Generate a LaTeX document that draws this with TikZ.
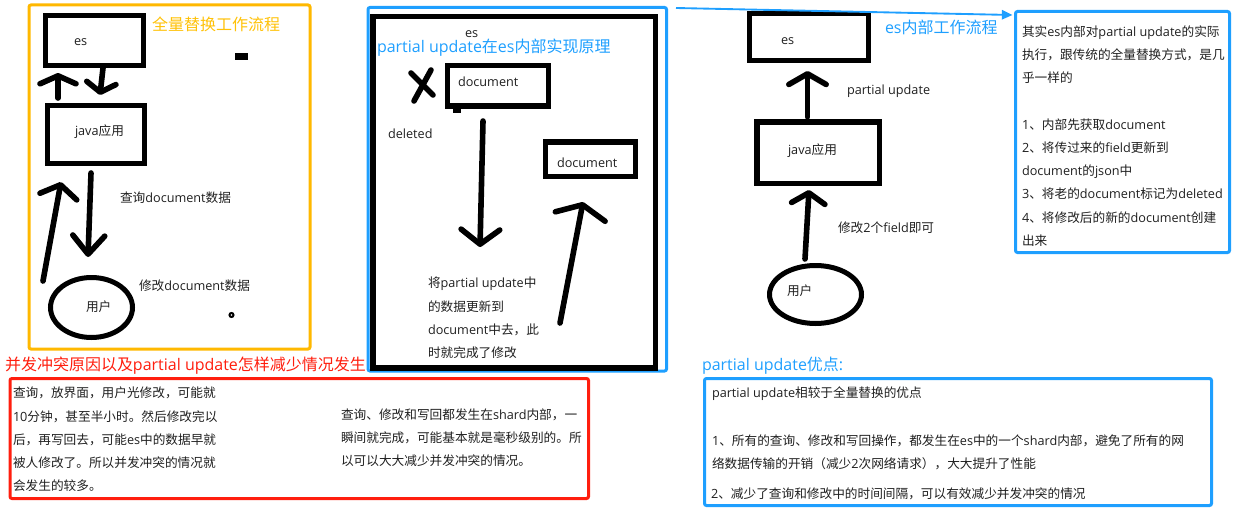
\documentclass[tikz,border=0pt]{standalone}
\usepackage{fontspec}
\setmainfont{Noto Sans CJK SC}
\newfontfamily\latfont{Open Sans}
\newcommand{\la}[1]{{\latfont #1}}
\usetikzlibrary{arrows.meta,shapes.geometric}
\definecolor{panelblue}{HTML}{1E9FFF}
\definecolor{panelorange}{HTML}{FFB800}
\definecolor{titleorange}{HTML}{FFC107}
\definecolor{panelred}{HTML}{FF1E0E}
\tikzset{
    panel/.style={draw=#1,line width=2.25pt,rounded corners=1.5pt,inner sep=0pt,outer sep=0pt},
    inkbox/.style={draw=black,line width=3.75pt,inner sep=0pt,outer sep=0pt},
    inkuser/.style={draw=black,line width=3.75pt,ellipse,inner sep=0pt,outer sep=0pt},
    sized/.style 2 args={minimum width=#1*0.75pt,minimum height=#2*0.75pt},
    brush/.style={line width=4.2pt,line cap=round,line join=round},
    barb/.style 2 args={-{Straight Barb[length=#1,width=#2,round]}},
    txt/.style={anchor=west,inner sep=0pt,outer sep=0pt,align=left,text=black!88,font=\fontsize{9.5}{17.4}\selectfont},
    titletxt/.style={anchor=west,inner sep=0pt,outer sep=0pt,text=#1,font=\fontsize{12}{14}\selectfont}
}
\begin{document}
\begin{tikzpicture}[x=0.75pt,y=-0.75pt]
            \useasboundingbox (0,0) rectangle (1235,510);
            % full replace flow
            \node[panel=panelorange,sized={281}{344}] (fullpanel) at (169.5,177) {};
            \node[inkbox,sized={98}{50}] (es1) at (94.5,40.5) {};
            \node[inkbox,sized={97}{58}] (java1) at (96,134.5) {};
            \node[inkuser,sized={82}{60}] (user1) at (91.5,307.5) {};
            \node[txt] (estxt1) at (74,42) {\la{es}};
            \node[txt] (javatxt1) at (75,132) {\la{java}应用};
            \node[txt] (usertxt1) at (86,307) {用户};
            \node[titletxt=titleorange] (fulltitle) at (152,24) {全量替换工作流程};
            \node[txt] (querytxt) at (120,198) {查询\la{document}数据};
            \node[txt] (edittxt) at (139,286) {修改\la{document}数据};
            \fill (235,53) rectangle (248,60);
            \draw[line width=1.5pt] (231.5,315) circle (2);
            \draw[brush,barb={6pt}{27pt}] ([shift={(-38,-7.5)}]java1.north) -- ([shift={(-36.5,7.5)}]es1.south);
            \draw[brush,barb={7pt}{22pt}] ([shift={(8.5,2.5)}]es1.south) -- ([shift={(4,-10.5)}]java1.north);
            \draw[brush,barb={14pt}{24pt}] ([shift={(-5,9.5)}]java1.south) -- ([shift={(-3.5,-20.5)}]user1.north);
            \draw[brush,barb={9pt}{28pt}] ([shift={(-48.5,-26.5)}]user1.center) -- ([shift={(-35,18.5)}]java1.south);
            % inside es
            \node[panel=panelblue,sized={298.5}{363.5}] (midpanel) at (517.25,189.25) {};
            \node[inkbox,line width=4.1pt,sized={282.5}{351.5}] (espanel) at (514.25,192.25) {};
            \node[inkbox,sized={101}{40.5}] (doc1) at (498,85.75) {};
            \node[inkbox,line width=4.1pt,sized={89.5}{34.5}] (doc2) at (590.5,159.25) {};
            \fill (453,106) rectangle (461,113);
            \draw[brush] (411,73) -- (433,95);
            \draw[brush] (431,70) -- (414,101);
            \node[txt] (estxt2) at (465,34) {\la{es}};
            \node[titletxt=panelblue] (midtitle) at (377,48) {\la{partial update}在\la{es}内部实现原理};
            \node[txt] (doctxt1) at (458,82) {\la{document}};
            \node[txt] (doctxt2) at (557,163) {\la{document}};
            \node[txt] (deltxt) at (388,134) {\la{deleted}};
            \node[txt] (updtxt) at (428,318) {将\la{partial update}中\\的数据更新到\\\la{document}中去，此\\时就完成了修改};
            \coordinate (downtip) at (480,247);
            \coordinate (upbase) at (560,323);
            \draw[brush,barb={11pt}{29pt}] ([shift={(-15,15)}]doc1.south) -- (downtip);
            \draw[brush,barb={9pt}{38pt}] (upbase) -- ([shift={(-7.5,25.5)}]doc2.south);
            % internal flow
            \node[inkbox,sized={119.5}{47}] (es2) at (808.75,37) {};
            \node[inkbox,line width=4.1pt,sized={122.5}{61.5}] (java2) at (818.25,152.75) {};
            \node[inkuser,sized={92}{58}] (user2) at (815.5,294.5) {};
            \node[txt] (estxt3) at (781,41) {\la{es}};
            \node[txt] (javatxt2) at (788,151) {\la{java}应用};
            \node[txt] (usertxt2) at (787,291) {用户};
            \node[txt] (partxt) at (847,91) {\la{partial update}};
            \node[txt] (fieldtxt) at (838,228) {修改\la{2}个\la{field}即可};
            \node[titletxt=panelblue] (flowtitle) at (885,27) {\la{es}内部工作流程};
            \draw[brush,barb={8pt}{28pt}] ([shift={(-10.75,-5)}]java2.north) -- ([shift={(-1.25,10.5)}]es2.south);
            \draw[brush,barb={8pt}{25pt}] ([shift={(-10.5,-6.5)}]user2.north) -- ([shift={(-9.25,6.5)}]java2.south);
            \node[panel=panelblue,sized={214}{241}] (note) at (1122.5,132) {};
            \node[txt] (notetxt) at (1022,136) {其实\la{es}内部对\la{partial update}的实际\\执行，跟传统的全量替换方式，是几\\乎一样的\\~\\\la{1}、内部先获取\la{document}\\\la{2}、将传过来的\la{field}更新到\\\la{document}的\la{json}中\\\la{3}、将老的\la{document}标记为\la{deleted}\\\la{4}、将修改后的新的\la{document}创建\\出来};
            \draw[panelblue,line width=1.4pt,-{Triangle[length=8pt,width=7pt]}] ([shift={(9.5,0.5)}]midpanel.north east) -- ([shift={(-3,3.5)}]note.north west);
            % conflict reason
            \node[panel=panelred,sized={578.5}{120}] (redbox) at (299.25,438.5) {};
            \node[titletxt=panelred] (redtitle) at (5,365.5) {并发冲突原因以及\la{partial update}怎样减少情况发生};
            \node[txt] (redleft) at (13,439.5) {查询，放界面，用户光修改，可能就\\\la{10}分钟，甚至半小时。然后修改完以\\后，再写回去，可能\la{es}中的数据早就\\被人修改了。所以并发冲突的情况就\\会发生的较多。};
            \node[txt] (redright) at (341,438) {查询、修改和写回都发生在\la{shard}内部，一\\瞬间就完成，可能基本就是毫秒级别的。所\\以可以大大减少并发冲突的情况。};
            % advantages
            \node[panel=panelblue,sized={507}{127}] (advbox) at (958,442) {};
            \node[titletxt=panelblue] (advtitle) at (702,366) {\la{partial update}优点\la{:}};
            \node[txt] (advhead) at (712,394) {\la{partial update}相较于全量替换的优点};
            \node[txt] (advone) at (712,452.5) {\la{1}、所有的查询、修改和写回操作，都发生在\la{es}中的一个\la{shard}内部，避免了所有的网\\络数据传输的开销（减少\la{2}次网络请求），大大提升了性能};
            \node[txt] (advtwo) at (711,494) {\la{2}、减少了查询和修改中的时间间隔，可以有效减少并发冲突的情况};
        \end{tikzpicture}
\end{document}
